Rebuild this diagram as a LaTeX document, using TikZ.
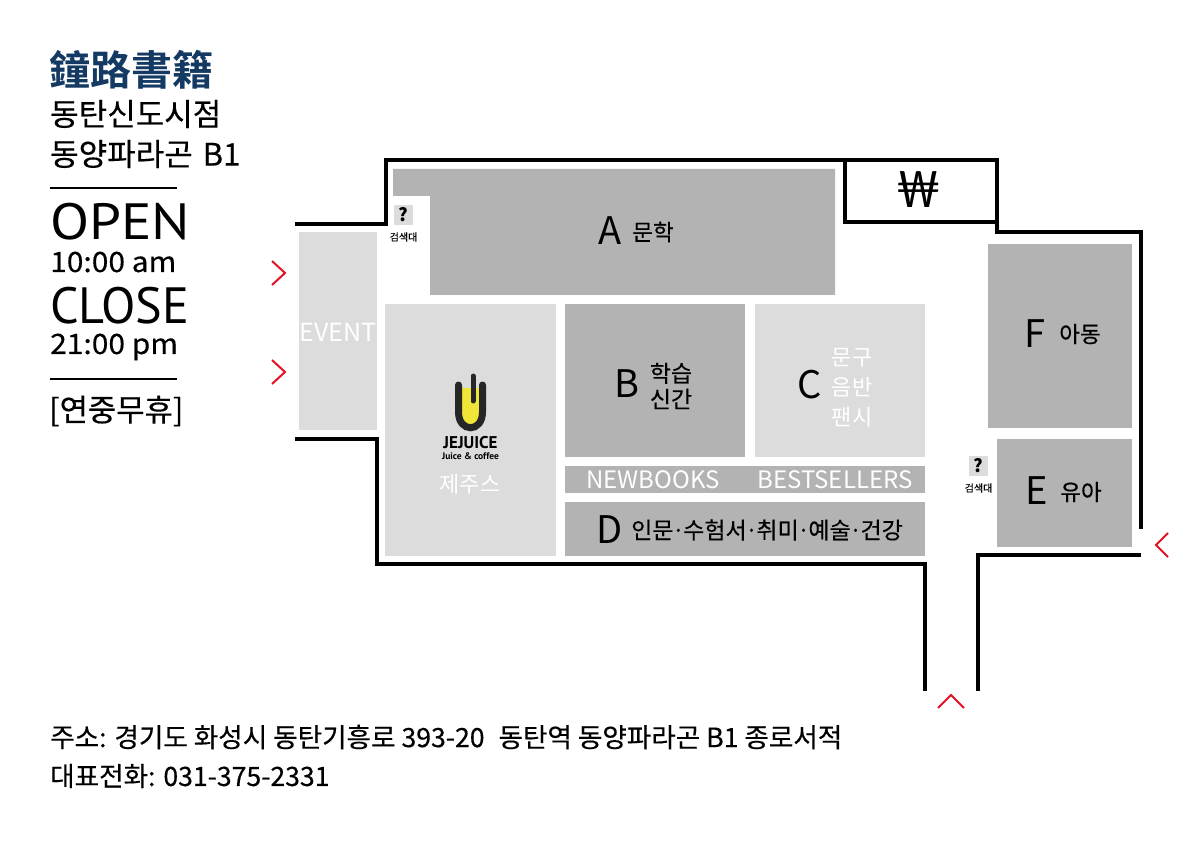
\documentclass[tikz,border=0pt]{standalone}
\usepackage{fontspec}
\setmainfont{Noto Sans CJK KR}
\newfontfamily\hanfont[BoldFont=* Bold]{Noto Sans CJK TC}
\newfontfamily\med[FakeBold=0.35]{Noto Sans CJK KR}
\newfontfamily\wonfont{Carlito}
\setsansfont{PT Sans}
\definecolor{dk}{HTML}{B3B3B3}
\definecolor{lt}{HTML}{DCDCDC}
\definecolor{navy}{HTML}{143A63}
\definecolor{redm}{HTML}{E60F23}
\definecolor{yel}{HTML}{F0E637}
\newcommand{\fs}[1]{\fontsize{#1}{#1}\selectfont}
\newcommand{\dotk}{\kern-1.6pt·\kern-1.6pt}
\tikzset{
  wall/.style={line width=4pt,draw=black,line cap=butt,line join=miter},
  rule/.style={line width=1.2pt,draw=black},
  chev/.style={line width=2pt,draw=redm},
  darkroom/.style={fill=dk,draw=none},
  lightroom/.style={fill=lt,draw=none},
  txt/.style={inner sep=0pt,anchor=west},
  lab/.style={inner sep=0pt,anchor=center},
}
\begin{document}
\begin{tikzpicture}[x=1pt,y=-1pt]
\useasboundingbox (0,0) rectangle (1191,842);
% left panel
\node[txt,text=navy] (title) at (49,70) {\hanfont\bfseries\fs{41}鐘路書籍};
\node[txt] (branch) at (50,114) {\med\fs{31}동탄신도시점};
\node[txt] (mall) at (50,154) {\med\fs{31}동양파라곤\hspace{3pt} B1};
\draw[rule] (50,188) -- (177,188);
\node[txt] (open) at (50,222) {\sffamily\fs{51}\scalebox{1.12}[1]{OPEN}};
\node[txt] (opent) at (50,262) {\med\fs{28}\scalebox{1.07}[1]{10:00 am}};
\node[txt] (close) at (50,306) {\sffamily\fs{51}\scalebox{0.985}[1]{CLOSE}};
\node[txt] (closet) at (50,347) {\med\fs{28}\scalebox{1.07}[1]{21:00 pm}};
\draw[rule] (50,379) -- (177,379);
\node[txt] (holiday) at (49,411) {\med\fs{30.8}[연중무휴]};
% rooms
\fill[darkroom] (393,169) -- (835,169) -- (835,295) -- (430,295) -- (430,196) -- (393,196) -- cycle;
\fill[lightroom] (299,232) rectangle (377,430);
\fill[lightroom] (385,304) rectangle (556,556);
\fill[darkroom] (565,304) rectangle (745,457);
\fill[lightroom] (755,304) rectangle (925,457);
\fill[darkroom] (565,466) rectangle (925,493);
\fill[darkroom] (565,502) rectangle (925,556);
\fill[darkroom] (988,244) rectangle (1132,428);
\fill[darkroom] (997,439) rectangle (1132,547);
\fill[lightroom] (394,205) rectangle (413,225);
\fill[lightroom] (969,456) rectangle (988,476);
% walls
\draw[wall] (295,224) -- (386,224) -- (386,160) -- (997,160) -- (997,232) -- (1141,232) -- (1141,529);
\draw[wall] (845,160) -- (845,222) -- (997,222);
\draw[wall] (295,439) -- (377,439) -- (377,564) -- (925,564) -- (925,691);
\draw[wall] (1141,555) -- (978,555) -- (978,691);
% chevrons
\draw[chev] (272,261) -- (285,273) -- (272,285);
\draw[chev] (272,360) -- (285,372) -- (272,384);
\draw[chev] (1168,533) -- (1156,545) -- (1168,557);
\draw[chev] (938,708) -- (951,695) -- (964,708);
% labels
\node[lab] (qa) at (403.5,215) {\fs{18}\bfseries ?};
\node[lab] (qat) at (403.5,237) {\med\fs{10}검색대};
\node[lab] (qe) at (978.5,466) {\fs{18}\bfseries ?};
\node[lab] (qet) at (978.5,488) {\med\fs{10}검색대};
\node[lab] (won) at (919,190) {\wonfont\fs{56}\scalebox{0.85}[1]{₩}};
\node[lab] (a1) at (610,231) {\fs{38}A};
\node[lab] (a2) at (653,232) {\med\fs{22.5}문학};
\node[lab,text=white] (ev) at (338,332) {\fs{25}EVENT};
\node[lab] (b1) at (627,384) {\fs{38}B};
\node[lab,align=center] (b2) at (671,386) {\med\fs{23}학습\\[4pt]\med\fs{23}신간};
\node[lab] (c1) at (810,385) {\fs{38}C};
\node[lab,text=white,align=center] (c2) at (852,388) {\fs{22}문구\\[9pt]\fs{22}음반\\[9pt]\fs{22}팬시};
\node[lab,text=white] (nb) at (653,480) {\fs{24}NEWBOOKS};
\node[lab,text=white] (bs) at (835,480) {\fs{24}BESTSELLERS};
\node[lab] (d1) at (610,530) {\fs{38}D};
\node[lab] (d2) at (767,530) {\med\fs{23}인문\dotk 수험서\dotk 취미\dotk 예술\dotk 건강};
\node[lab] (f1) at (1035,334) {\fs{38}F};
\node[lab] (f2) at (1080,334) {\med\fs{22.5}아동};
\node[lab] (e1) at (1037,491) {\fs{38}E};
\node[lab] (e2) at (1081,492) {\med\fs{22.5}유아};
% logo
\fill[yel] (462,388) -- (479,388) -- (479,415) .. controls (479,429) and (462,429) .. (462,415) -- cycle;
\draw[line width=7pt,line cap=round,black!85] (458.5,385) -- (458.5,412) .. controls (458.5,433) and (482.5,433) .. (482.5,412) -- (482.5,385);
\draw[line width=5pt,line cap=round,black!85] (473,376) -- (473,401);
\node[lab] (logo) at (470.5,443) {\sffamily\bfseries\fs{17}JEJUICE};
\node[lab] (logo2) at (470.5,456) {\sffamily\bfseries\fs{9.5}Juice \& coffee};
\node[lab,text=white] (jj) at (470,484) {\fs{22}제주스};
% footer
\node[txt] (addr) at (50,737) {\med\fs{26.6}주소: 경기도 화성시 동탄기흥로 393-20\hspace{8pt} 동탄역 동양파라곤 B1 종로서적};
\node[txt] (tel) at (50,776) {\med\fs{26.6}대표전화: 031-375-2331};
\end{tikzpicture}
\end{document}
